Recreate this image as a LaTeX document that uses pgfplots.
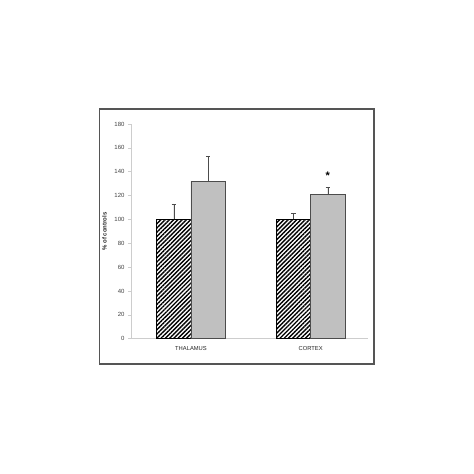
\documentclass[border=0pt]{standalone}
\usepackage{pgfplots}
\pgfplotsset{compat=1.18}
\usepackage{fontspec}
\setmainfont{Liberation Sans}
\usetikzlibrary{patterns.meta}
\definecolor{barGray}{RGB}{192,192,192}
\definecolor{frameGray}{RGB}{85,85,85}
\definecolor{axGray}{RGB}{205,205,205}
\begin{document}
\begin{tikzpicture}[x=1pt,y=1pt]
\path[use as bounding box, fill=white] (0,0) rectangle (474,474);
\draw[frameGray, line width=1.2pt] (99.5,110) rectangle (374,365);
\begin{axis}[
  at={(131pt,135.3pt)}, anchor=south west,
  scale only axis,
  width=237pt, height=214.7pt,
  xmin=-0.501, xmax=1.479,
  ymin=0, ymax=180,
  ytick={0,20,...,180},
  xtick={0,1},
  xticklabels={THALAMUS,CORTEX},
  extra x ticks={0.5},
  extra x tick labels={},
  axis lines*=left,
  axis line style={axGray, line width=0.6pt},
  tick style={axGray, line width=0.5pt},
  major tick length=3pt,
  tick align=outside,
  y tick label style={font=\fontsize{6}{6}\selectfont, text=black!75},
  x tick label style={font=\fontsize{5.8}{6}\selectfont, text=black!85, yshift=-1pt},
  xtick style={draw=none},
  extra x tick style={tick style={axGray}},
  /pgf/number format/assume math mode=true,
  ylabel={\% of controls},
  ylabel style={font=\bfseries\fontsize{6}{6}\selectfont, text=black!85, at={(axis description cs:-0.088,0.5)}, anchor=south},
  ybar, bar width=0.287,
  clip=false,
]
\addplot[bar shift=-0.1433, draw=black, line width=0.6pt,
  pattern={Lines[angle=45,distance=3pt,line width=1.4pt]}, pattern color=black,
  error bars/.cd, y dir=plus, y explicit,
  error bar style={black!70, line width=0.6pt}, error mark options={rotate=90, mark size=2.3pt, black!70}]
  coordinates {(0,100) +- (0,13) (1,100) +- (0,5)};
\addplot[bar shift=0.1433, draw=black!70, fill=barGray, line width=0.6pt,
  error bars/.cd, y dir=plus, y explicit,
  error bar style={black!70, line width=0.6pt}, error mark options={rotate=90, mark size=2.3pt, black!70}]
  coordinates {(0,132) +- (0,21) (1,121) +- (0,6)};
\node[font=\bfseries\fontsize{11}{11}\selectfont] at (axis cs:1.1433,137) {*};
\end{axis}
\end{tikzpicture}
\end{document}
